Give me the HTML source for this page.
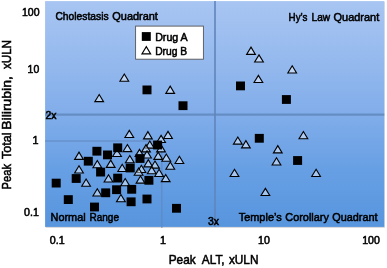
<!DOCTYPE html>
<html><head><meta charset="utf-8"><title>Peak Total Bilirubin vs Peak ALT</title>
<style>
html,body{margin:0;padding:0;background:#fff;}
svg{display:block;font-family:"Liberation Sans",sans-serif;}
text{fill:#000;stroke:#000;stroke-width:0.55px;}
</style></head><body>
<svg width="387" height="268" viewBox="0 0 387 268">
<defs>
<linearGradient id="bg" x1="0" y1="0" x2="0" y2="1">
<stop offset="0" stop-color="#a8c5f2"/>
<stop offset="0.25" stop-color="#96baee"/>
<stop offset="0.5" stop-color="#81adea"/>
<stop offset="0.75" stop-color="#679fe4"/>
<stop offset="1" stop-color="#5795dd"/>
</linearGradient>
<filter id="sh" x="-5%" y="-5%" width="110%" height="110%"><feGaussianBlur stdDeviation="0.6"/></filter>
</defs>
<rect x="45.6" y="1.8" width="339.2" height="226.2" fill="#999" fill-opacity="0.35" filter="url(#sh)"/>
<rect x="45.1" y="1.1" width="339.2" height="225.8" fill="url(#bg)"/>
<!-- reference lines -->
<g stroke="#5f84ba" stroke-opacity="0.8">
<line x1="45.1" y1="114.6" x2="384.3" y2="114.6" stroke-width="2.3"/>
<line x1="215" y1="1.1" x2="215" y2="226.9" stroke-width="2"/>
</g>
<g stroke="#5f84ba" stroke-opacity="0.6">
<line x1="45" y1="141" x2="162" y2="141" stroke-width="1.5"/>
<line x1="161.8" y1="140" x2="161.8" y2="228" stroke-width="1.5"/>
</g>
<!-- legend -->
<rect x="135.6" y="26.1" width="67.8" height="33.1" fill="#fff" stroke="#555" stroke-width="0.9"/>
<rect x="141.80" y="32.10" width="9.0" height="8.8" fill="#000"/><path d="M146.30 46.66L150.67 53.85H141.93Z" fill="#fff" fill-opacity="1" stroke="#000" stroke-width="1.1" stroke-linejoin="miter" stroke-miterlimit="10"/>
<g font-size="11">
<text x="155.2" y="40.9" textLength="32.5" lengthAdjust="spacingAndGlyphs">Drug A</text>
<text x="155.2" y="54.7" textLength="32" lengthAdjust="spacingAndGlyphs">Drug B</text>
</g>
<!-- quadrant labels -->
<g font-size="11.2">
<text x="55.4" y="20.4" textLength="53.2" lengthAdjust="spacingAndGlyphs">Cholestasis</text><text x="112.3" y="20.4" textLength="45.6" lengthAdjust="spacingAndGlyphs">Quadrant</text>
<text x="288.6" y="20.6" textLength="18.8" lengthAdjust="spacingAndGlyphs">Hy’s</text><text x="311.6" y="20.6" textLength="18.6" lengthAdjust="spacingAndGlyphs">Law</text><text x="333.6" y="20.6" textLength="45.6" lengthAdjust="spacingAndGlyphs">Quadrant</text>
<text x="50.5" y="220.6" textLength="35.2" lengthAdjust="spacingAndGlyphs">Normal</text><text x="89.4" y="220.6" textLength="29.6" lengthAdjust="spacingAndGlyphs">Range</text>
<text x="238.7" y="220.9" textLength="43" lengthAdjust="spacingAndGlyphs">Temple’s</text><text x="285.3" y="220.9" textLength="43.6" lengthAdjust="spacingAndGlyphs">Corollary</text><text x="332.3" y="220.9" textLength="45.3" lengthAdjust="spacingAndGlyphs">Quadrant</text>
</g>
<g font-size="10.8">
<text x="45.5" y="118.8" textLength="11" lengthAdjust="spacingAndGlyphs">2x</text>
<text x="208" y="224.7" textLength="11" lengthAdjust="spacingAndGlyphs">3x</text>
</g>
<!-- axis tick labels -->
<g font-size="10.8" text-anchor="end" style="stroke-width:0.42px">
<text x="39.6" y="16" textLength="17.6" lengthAdjust="spacingAndGlyphs">100</text>
<text x="39.2" y="73.2" textLength="11.6" lengthAdjust="spacingAndGlyphs">10</text>
<text x="38.6" y="144.4">1</text>
<text x="38.9" y="216.1" textLength="14.8" lengthAdjust="spacingAndGlyphs">0.1</text>
</g>
<g font-size="10.8" style="stroke-width:0.45px">
<text x="49.8" y="244" textLength="14.9" lengthAdjust="spacingAndGlyphs">0.1</text>
<text x="159.9" y="244">1</text>
<text x="258" y="244" textLength="11.8" lengthAdjust="spacingAndGlyphs">10</text>
<text x="362.2" y="244" textLength="17.6" lengthAdjust="spacingAndGlyphs">100</text>
</g>
<g font-size="13.4" style="stroke-width:0.7px">
<text x="168.7" y="263.9" textLength="27" lengthAdjust="spacingAndGlyphs">Peak</text><text x="201.8" y="263.9" textLength="22.8" lengthAdjust="spacingAndGlyphs">ALT,</text><text x="228.9" y="263.9" textLength="29.6" lengthAdjust="spacingAndGlyphs">xULN</text>
<text transform="translate(11.3,189.4) rotate(-90)" textLength="25.5" lengthAdjust="spacingAndGlyphs">Peak</text><text transform="translate(11.3,158.9) rotate(-90)" textLength="26.5" lengthAdjust="spacingAndGlyphs">Total</text><text transform="translate(11.3,129.7) rotate(-90)" textLength="53.5" lengthAdjust="spacingAndGlyphs">Bilirubin,</text><text transform="translate(11.3,69) rotate(-90)" textLength="29" lengthAdjust="spacingAndGlyphs">xULN</text>
</g>
<!-- data -->
<path d="M124.30 74.06L128.67 81.25H119.93Z" fill="#fff" fill-opacity="0.42" stroke="#000" stroke-width="1.1" stroke-linejoin="miter" stroke-miterlimit="10"/><path d="M170.20 86.16L174.57 93.35H165.83Z" fill="#fff" fill-opacity="0.42" stroke="#000" stroke-width="1.1" stroke-linejoin="miter" stroke-miterlimit="10"/><path d="M99.20 94.46L103.57 101.65H94.83Z" fill="#fff" fill-opacity="0.42" stroke="#000" stroke-width="1.1" stroke-linejoin="miter" stroke-miterlimit="10"/><path d="M251.00 47.16L255.37 54.35H246.63Z" fill="#fff" fill-opacity="0.42" stroke="#000" stroke-width="1.1" stroke-linejoin="miter" stroke-miterlimit="10"/><path d="M259.00 54.86L263.37 62.05H254.63Z" fill="#fff" fill-opacity="0.42" stroke="#000" stroke-width="1.1" stroke-linejoin="miter" stroke-miterlimit="10"/><path d="M292.20 65.76L296.57 72.95H287.83Z" fill="#fff" fill-opacity="0.42" stroke="#000" stroke-width="1.1" stroke-linejoin="miter" stroke-miterlimit="10"/><path d="M258.40 75.36L262.77 82.55H254.03Z" fill="#fff" fill-opacity="0.42" stroke="#000" stroke-width="1.1" stroke-linejoin="miter" stroke-miterlimit="10"/><path d="M237.80 136.96L242.17 144.15H233.43Z" fill="#fff" fill-opacity="0.42" stroke="#000" stroke-width="1.1" stroke-linejoin="miter" stroke-miterlimit="10"/><path d="M245.90 140.66L250.27 147.85H241.53Z" fill="#fff" fill-opacity="0.42" stroke="#000" stroke-width="1.1" stroke-linejoin="miter" stroke-miterlimit="10"/><path d="M303.40 131.56L307.77 138.75H299.03Z" fill="#fff" fill-opacity="0.42" stroke="#000" stroke-width="1.1" stroke-linejoin="miter" stroke-miterlimit="10"/><path d="M277.80 145.66L282.17 152.85H273.43Z" fill="#fff" fill-opacity="0.42" stroke="#000" stroke-width="1.1" stroke-linejoin="miter" stroke-miterlimit="10"/><path d="M276.50 157.76L280.87 164.95H272.13Z" fill="#fff" fill-opacity="0.42" stroke="#000" stroke-width="1.1" stroke-linejoin="miter" stroke-miterlimit="10"/><path d="M234.50 169.26L238.87 176.45H230.13Z" fill="#fff" fill-opacity="0.42" stroke="#000" stroke-width="1.1" stroke-linejoin="miter" stroke-miterlimit="10"/><path d="M316.10 169.26L320.47 176.45H311.73Z" fill="#fff" fill-opacity="0.42" stroke="#000" stroke-width="1.1" stroke-linejoin="miter" stroke-miterlimit="10"/><path d="M265.40 188.36L269.77 195.55H261.03Z" fill="#fff" fill-opacity="0.42" stroke="#000" stroke-width="1.1" stroke-linejoin="miter" stroke-miterlimit="10"/><path d="M79.00 152.16L83.37 159.35H74.63Z" fill="#fff" fill-opacity="0.42" stroke="#000" stroke-width="1.1" stroke-linejoin="miter" stroke-miterlimit="10"/><path d="M97.30 160.56L101.67 167.75H92.93Z" fill="#fff" fill-opacity="0.42" stroke="#000" stroke-width="1.1" stroke-linejoin="miter" stroke-miterlimit="10"/><path d="M79.00 165.76L83.37 172.95H74.63Z" fill="#fff" fill-opacity="0.42" stroke="#000" stroke-width="1.1" stroke-linejoin="miter" stroke-miterlimit="10"/><path d="M110.70 160.16L115.07 167.35H106.33Z" fill="#fff" fill-opacity="0.42" stroke="#000" stroke-width="1.1" stroke-linejoin="miter" stroke-miterlimit="10"/><path d="M129.30 130.36L133.67 137.55H124.93Z" fill="#fff" fill-opacity="0.42" stroke="#000" stroke-width="1.1" stroke-linejoin="miter" stroke-miterlimit="10"/><path d="M147.90 131.66L152.27 138.85H143.53Z" fill="#fff" fill-opacity="0.42" stroke="#000" stroke-width="1.1" stroke-linejoin="miter" stroke-miterlimit="10"/><path d="M168.00 131.36L172.37 138.55H163.63Z" fill="#fff" fill-opacity="0.42" stroke="#000" stroke-width="1.1" stroke-linejoin="miter" stroke-miterlimit="10"/><path d="M161.10 135.36L165.47 142.55H156.73Z" fill="#fff" fill-opacity="0.42" stroke="#000" stroke-width="1.1" stroke-linejoin="miter" stroke-miterlimit="10"/><path d="M127.40 144.46L131.77 151.65H123.03Z" fill="#fff" fill-opacity="0.42" stroke="#000" stroke-width="1.1" stroke-linejoin="miter" stroke-miterlimit="10"/><path d="M149.80 140.96L154.17 148.15H145.43Z" fill="#fff" fill-opacity="0.42" stroke="#000" stroke-width="1.1" stroke-linejoin="miter" stroke-miterlimit="10"/><path d="M146.00 144.66L150.37 151.85H141.63Z" fill="#fff" fill-opacity="0.42" stroke="#000" stroke-width="1.1" stroke-linejoin="miter" stroke-miterlimit="10"/><path d="M161.00 144.66L165.37 151.85H156.63Z" fill="#fff" fill-opacity="0.42" stroke="#000" stroke-width="1.1" stroke-linejoin="miter" stroke-miterlimit="10"/><path d="M139.50 149.36L143.87 156.55H135.13Z" fill="#fff" fill-opacity="0.42" stroke="#000" stroke-width="1.1" stroke-linejoin="miter" stroke-miterlimit="10"/><path d="M117.00 149.36L121.37 156.55H112.63Z" fill="#fff" fill-opacity="0.42" stroke="#000" stroke-width="1.1" stroke-linejoin="miter" stroke-miterlimit="10"/><path d="M147.00 150.86L151.37 158.05H142.63Z" fill="#fff" fill-opacity="0.42" stroke="#000" stroke-width="1.1" stroke-linejoin="miter" stroke-miterlimit="10"/><path d="M158.20 152.16L162.57 159.35H153.83Z" fill="#fff" fill-opacity="0.42" stroke="#000" stroke-width="1.1" stroke-linejoin="miter" stroke-miterlimit="10"/><path d="M166.30 154.06L170.67 161.25H161.93Z" fill="#fff" fill-opacity="0.42" stroke="#000" stroke-width="1.1" stroke-linejoin="miter" stroke-miterlimit="10"/><path d="M179.40 156.26L183.77 163.45H175.03Z" fill="#fff" fill-opacity="0.42" stroke="#000" stroke-width="1.1" stroke-linejoin="miter" stroke-miterlimit="10"/><path d="M129.80 155.56L134.17 162.75H125.43Z" fill="#fff" fill-opacity="0.42" stroke="#000" stroke-width="1.1" stroke-linejoin="miter" stroke-miterlimit="10"/><path d="M148.30 159.66L152.67 166.85H143.93Z" fill="#fff" fill-opacity="0.42" stroke="#000" stroke-width="1.1" stroke-linejoin="miter" stroke-miterlimit="10"/><path d="M155.00 160.96L159.37 168.15H150.63Z" fill="#fff" fill-opacity="0.42" stroke="#000" stroke-width="1.1" stroke-linejoin="miter" stroke-miterlimit="10"/><path d="M170.30 162.06L174.67 169.25H165.93Z" fill="#fff" fill-opacity="0.42" stroke="#000" stroke-width="1.1" stroke-linejoin="miter" stroke-miterlimit="10"/><path d="M122.20 164.26L126.57 171.45H117.83Z" fill="#fff" fill-opacity="0.42" stroke="#000" stroke-width="1.1" stroke-linejoin="miter" stroke-miterlimit="10"/><path d="M141.40 165.26L145.77 172.45H137.03Z" fill="#fff" fill-opacity="0.42" stroke="#000" stroke-width="1.1" stroke-linejoin="miter" stroke-miterlimit="10"/><path d="M151.70 166.56L156.07 173.75H147.33Z" fill="#fff" fill-opacity="0.42" stroke="#000" stroke-width="1.1" stroke-linejoin="miter" stroke-miterlimit="10"/><path d="M138.60 168.06L142.97 175.25H134.23Z" fill="#fff" fill-opacity="0.42" stroke="#000" stroke-width="1.1" stroke-linejoin="miter" stroke-miterlimit="10"/><path d="M159.10 169.26L163.47 176.45H154.73Z" fill="#fff" fill-opacity="0.42" stroke="#000" stroke-width="1.1" stroke-linejoin="miter" stroke-miterlimit="10"/><path d="M86.10 179.06L90.47 186.25H81.73Z" fill="#fff" fill-opacity="0.42" stroke="#000" stroke-width="1.1" stroke-linejoin="miter" stroke-miterlimit="10"/><path d="M108.50 174.76L112.87 181.95H104.13Z" fill="#fff" fill-opacity="0.42" stroke="#000" stroke-width="1.1" stroke-linejoin="miter" stroke-miterlimit="10"/><path d="M97.30 188.76L101.67 195.95H92.93Z" fill="#fff" fill-opacity="0.42" stroke="#000" stroke-width="1.1" stroke-linejoin="miter" stroke-miterlimit="10"/><path d="M125.20 178.56L129.57 185.75H120.83Z" fill="#fff" fill-opacity="0.42" stroke="#000" stroke-width="1.1" stroke-linejoin="miter" stroke-miterlimit="10"/><path d="M140.50 175.96L144.87 183.15H136.13Z" fill="#fff" fill-opacity="0.42" stroke="#000" stroke-width="1.1" stroke-linejoin="miter" stroke-miterlimit="10"/><path d="M165.70 174.46L170.07 181.65H161.33Z" fill="#fff" fill-opacity="0.42" stroke="#000" stroke-width="1.1" stroke-linejoin="miter" stroke-miterlimit="10"/><path d="M120.90 194.56L125.27 201.75H116.53Z" fill="#fff" fill-opacity="0.42" stroke="#000" stroke-width="1.1" stroke-linejoin="miter" stroke-miterlimit="10"/><rect x="142.50" y="85.50" width="9.0" height="8.8" fill="#000"/><rect x="178.50" y="101.30" width="9.0" height="8.8" fill="#000"/><rect x="236.00" y="81.50" width="9.0" height="8.8" fill="#000"/><rect x="281.90" y="95.10" width="9.0" height="8.8" fill="#000"/><rect x="254.80" y="133.90" width="9.0" height="8.8" fill="#000"/><rect x="293.10" y="156.10" width="9.0" height="8.8" fill="#000"/><rect x="92.40" y="146.80" width="9.0" height="8.8" fill="#000"/><rect x="103.00" y="150.50" width="9.0" height="8.8" fill="#000"/><rect x="83.80" y="156.80" width="9.0" height="8.8" fill="#000"/><rect x="96.10" y="167.70" width="9.0" height="8.8" fill="#000"/><rect x="113.20" y="143.40" width="9.0" height="8.8" fill="#000"/><rect x="153.10" y="140.60" width="9.0" height="8.8" fill="#000"/><rect x="135.50" y="154.10" width="9.0" height="8.8" fill="#000"/><rect x="125.70" y="163.60" width="9.0" height="8.8" fill="#000"/><rect x="51.70" y="178.70" width="9.0" height="8.8" fill="#000"/><rect x="71.70" y="174.10" width="9.0" height="8.8" fill="#000"/><rect x="63.80" y="195.20" width="9.0" height="8.8" fill="#000"/><rect x="101.20" y="188.40" width="9.0" height="8.8" fill="#000"/><rect x="90.00" y="202.60" width="9.0" height="8.8" fill="#000"/><rect x="113.20" y="173.70" width="9.0" height="8.8" fill="#000"/><rect x="144.40" y="175.90" width="9.0" height="8.8" fill="#000"/><rect x="112.10" y="185.30" width="9.0" height="8.8" fill="#000"/><rect x="127.20" y="184.90" width="9.0" height="8.8" fill="#000"/><rect x="126.60" y="197.40" width="9.0" height="8.8" fill="#000"/><rect x="142.50" y="194.60" width="9.0" height="8.8" fill="#000"/><rect x="172.00" y="203.90" width="9.0" height="8.8" fill="#000"/>
</svg>
</body></html>
